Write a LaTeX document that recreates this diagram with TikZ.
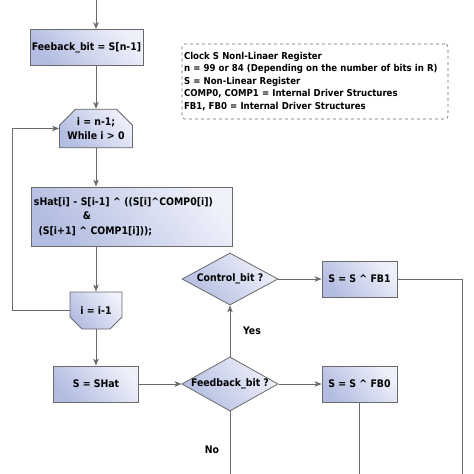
\documentclass[tikz,border=0pt]{standalone}
\usepackage{fontspec}
\setmainfont{DejaVu Sans Condensed}
\usetikzlibrary{shapes.geometric,shapes.misc,arrows.meta}
\definecolor{linec}{HTML}{6A6A6A}
\definecolor{boxl}{HTML}{EEF0FA}
\definecolor{boxr}{HTML}{B3BDE1}
\tikzset{
  every node/.style={text=black},
  boxfont/.style={font=\fontsize{10.4}{14.5}\selectfont\bfseries},
  infofont/.style={font=\fontsize{9.5}{12.5}\selectfont\bfseries},
  flowbox/.style={boxfont, draw=linec, line width=0.8pt, top color=boxl, bottom color=boxr, shading angle=-50, inner sep=0pt, align=center},
  rectbox/.style={flowbox, rectangle},
  chambox/.style={flowbox, chamfered rectangle, chamfered rectangle xsep=8pt, chamfered rectangle ysep=8pt},
  decbox/.style={flowbox, diamond, inner sep=0pt},
  conn/.style={draw=linec, line width=0.8pt},
  arr/.style={conn, -{Stealth[length=7pt,width=5.5pt,inset=2pt]}},
  lbl/.style={boxfont, inner sep=0pt}
}
\begin{document}
\begin{tikzpicture}[x=1pt,y=-1pt]
\useasboundingbox (0,0) rectangle (474,474);
\coordinate (start) at (96,0);
\coordinate (lx) at (12,0);
\coordinate (rx) at (462,0);
\coordinate (bot) at (0,474);

\node[rectbox, minimum width=113pt, minimum height=36pt] (fb) at (86.5,47.5) {Feeback\_bit = S[n-1]};
\node[chambox, chamfered rectangle corners={north west,north east}, minimum width=54pt, minimum height=37pt] (hex) at (96,128.5) {i = n-1;\\While i {>} 0};
\node[rectbox, minimum height=59pt, text width=195pt, inner xsep=3pt, align=left] (shat) at (131.5,216.5) {sHat[i] - S[i-1] \textasciicircum{} ((S[i]\textasciicircum{}COMP0[i])\\\hspace*{4.7em}\&\\\hspace*{0.45em}(S[i+1] \textasciicircum{} COMP1[i]));};
\node[chambox, chamfered rectangle corners={south west,south east}, minimum width=52pt, minimum height=37pt] (dec) at (96,310.5) {i = i-1};
\node[rectbox, minimum width=85pt, minimum height=36pt] (ss) at (96,384) {S = SHat};
\node[decbox, minimum width=96pt, minimum height=54pt, aspect=1.78] (fbq) at (230,384) {Feedback\_bit ?};
\node[decbox, minimum width=96pt, minimum height=52pt, aspect=1.85] (cbq) at (230,279) {Control\_bit ?};
\node[rectbox, minimum width=75pt, minimum height=36pt] (fb1) at (359.5,279) {S = S \textasciicircum{} FB1};
\node[rectbox, minimum width=75pt, minimum height=36pt] (fb0) at (359.5,384) {S = S \textasciicircum{} FB0};
\node[infofont, draw=linec, dashed, line width=0.6pt, rounded corners=3pt, inner xsep=2pt, inner ysep=0pt, text width=262pt, minimum height=75pt, align=left] (info) at (315,81.5) {Clock S Nonl-Linaer Register\\n = 99 or 84 (Depending on the number of bits in R)\\S = Non-Linear Register\\COMP0, COMP1 = Internal Driver Structures\\FB1, FB0 = Internal Driver Structures};
\node[lbl] (yes) at (252,331) {Yes};
\node[lbl] (no) at (212,450) {No};

\draw[arr] (start) -- (start |- fb.north);
\draw[arr] (hex.north |- fb.south) -- (hex.north);
\draw[arr] (hex.south) -- (hex.south |- shat.north);
\draw[arr] (dec.north |- shat.south) -- (dec.north);
\draw[arr] (dec.south) -- (ss.north);
\draw[arr] (dec.west) -- (dec.west -| lx) |- (hex.west);
\draw[arr] (ss.east) -- (fbq.west);
\draw[arr] (fbq.north) -- (cbq.south);
\draw[conn] (fbq.south) -- (fbq.south |- bot);
\draw[arr] (cbq.east) -- (fb1.west);
\draw[arr] (fbq.east) -- (fb0.west);
\draw[conn] (fb1.east) -- (fb1.east -| rx) -- (rx |- bot);
\draw[conn] (fb0.south) -- (fb0.south |- bot);
\end{tikzpicture}
\end{document}
